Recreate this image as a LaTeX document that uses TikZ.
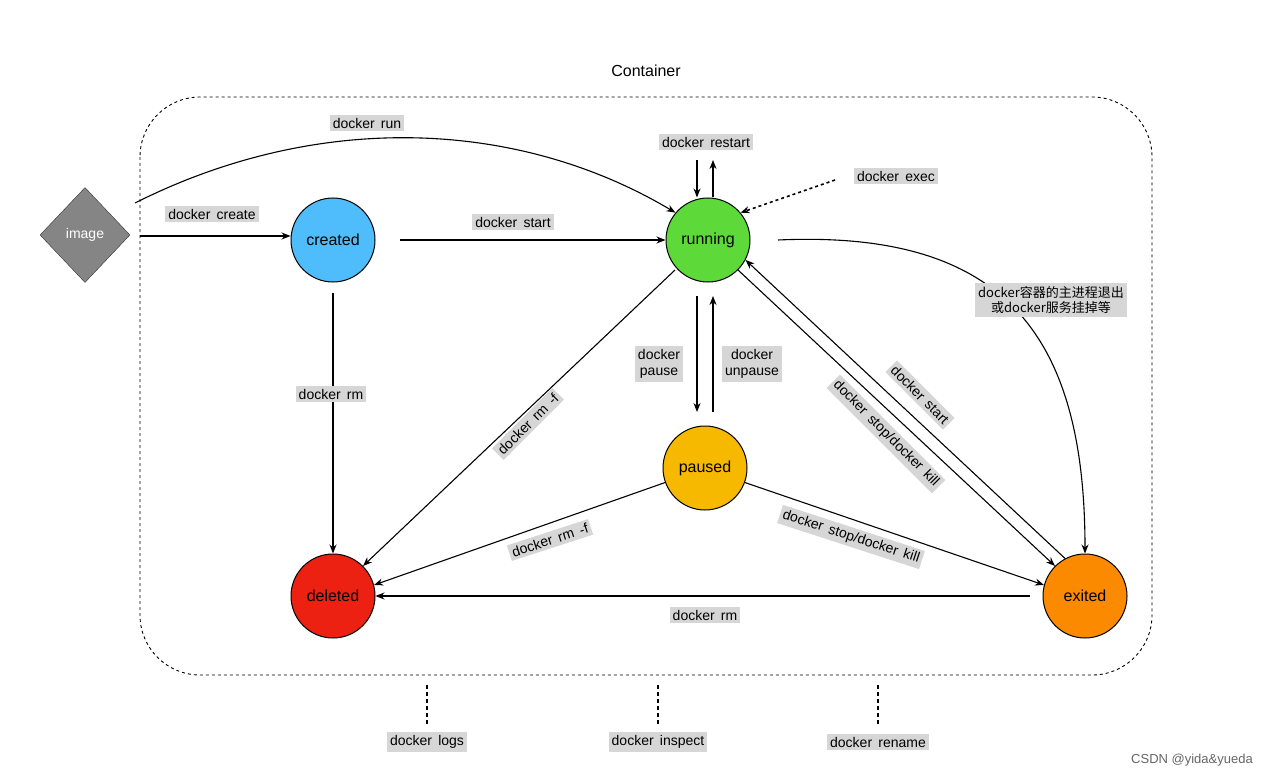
\documentclass[tikz,border=0pt]{standalone}
\usepackage{fontspec}
\setmainfont{Liberation Sans}
\newfontfamily\cjk{Noto Sans CJK SC}
\usetikzlibrary{shapes.geometric,arrows.meta}
\definecolor{cCreated}{HTML}{4FBDFB}
\definecolor{cRunning}{HTML}{5ED93A}
\definecolor{cPaused}{HTML}{F6B900}
\definecolor{cDeleted}{HTML}{EC2112}
\definecolor{cExited}{HTML}{FC8A00}
\begin{document}
\begin{tikzpicture}[x=1pt,y=-1pt,
  st/.style={circle,draw=black,line width=1pt,minimum size=84pt,inner sep=0pt,font=\fontsize{16}{18}\selectfont},
  lb/.style={fill=black!16,inner sep=3pt,font=\fontsize{14}{16}\selectfont},
  ar/.style={-{Stealth[length=9pt,width=7pt]},line width=1.1pt}]
\useasboundingbox[fill=white] (0,0) rectangle (1268,778);
\draw[dashed,line width=0.9pt,rounded corners=60pt] (140,97) rectangle (1152,675);
\node[font=\fontsize{16}{18}\selectfont] (title) at (646,71) {Container};
\node[diamond,draw=black!80,fill=black!48,minimum width=90pt,minimum height=95pt,inner sep=0pt,text=white,font=\fontsize{14}{16}\selectfont] (image) at (85,235) {image};
\node[st,fill=cCreated] (created) at (333,240) {created};
\node[st,fill=cRunning] (running) at (708,240) {running};
\node[st,fill=cPaused] (paused) at (705,468) {paused};
\node[st,fill=cDeleted] (deleted) at (333,596) {deleted};
\node[st,fill=cExited] (exited) at (1085,596) {exited};
\coordinate (runS) at (135,203);
\draw[ar] (runS) .. controls (320,110) and (520,120) .. (running.140);
\node[lb] (lrun) at (367,123) {docker\, run};
\coordinate (cS) at (140,236);
\draw[ar] (cS) -- (created.west|-cS);
\node[lb] (lcreate) at (212,214) {docker\, create};
\coordinate (s1) at (400,240);
\draw[ar] (s1) -- (running.west);
\node[lb] (lstart) at (513,222) {docker\, start};
\node[lb] (lrestart) at (706,142) {docker\, restart};
\coordinate (r1) at (697,160);
\coordinate (r2) at (713,160);
\draw[ar] (r1) -- (running.north-|r1);
\draw[ar] (running.north-|r2) -- (r2);
\node[lb] (lexec) at (896,176) {docker\, exec};
\coordinate (e1) at (835,180);
\draw[ar,dashed,line width=1.6pt] (e1) -- (running.40);
\coordinate (cr) at (333,293);
\draw[ar] (cr) -- (deleted.north);
\node[lb] (lrm1) at (331,394) {docker\, rm};
\draw[ar] (running.225)++(-3,0) -- (deleted.45);
\node[lb,rotate=45] at (528,424) {docker\, rm\, -f};
\coordinate (p1) at (697,296); \coordinate (p2) at (697,412);
\coordinate (u1) at (713,412); \coordinate (u2) at (713,296);
\draw[ar] (p1) -- (p2);
\draw[ar] (u1) -- (u2);
\node[lb,align=center] at (659,364) {docker\\pause};
\node[lb,align=center] at (752,364) {docker\\unpause};
\draw[ar] (running.-45) -- (exited.135);
\draw[ar] (exited.118) -- (running.-28);
\node[lb,rotate=-45] at (886,434) {docker\, stop/docker\, kill};
\node[lb,rotate=-45] at (920,395) {docker\, start};
\coordinate (x1) at (778,240);
\draw[ar] (x1) .. controls (1000,230) and (1085,330) .. (exited.north);
\node[lb,align=center,font=\cjk\fontsize{13}{15}\selectfont] at (1051,300) {docker容器的主进程退出\\或docker服务挂掉等};
\draw[ar] (paused.200) -- (deleted.15);
\node[lb,rotate=18] at (550,540) {docker\, rm\, -f};
\draw[ar] (paused.-20) -- (exited.165);
\node[lb,rotate=-18] at (851,537) {docker\, stop/docker\, kill};
\coordinate (d1) at (1030,596);
\draw[ar] (d1) -- (deleted.east);
\node[lb] at (705,615) {docker\, rm};
\foreach \x/\t in {427/logs,658/inspect,878/rename}{
  \draw[line width=1.5pt,dash pattern=on 4pt off 3pt] (\x,685) -- (\x,725);
  \node[lb] at (\x,742) {docker\, \t};
}
\node[text=black!60,font=\fontsize{13}{15}\selectfont] at (1192,760) {CSDN @yida\&yueda};
\end{tikzpicture}
\end{document}
